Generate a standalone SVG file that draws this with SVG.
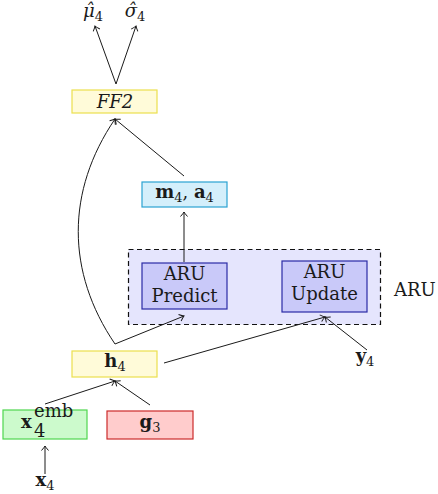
<svg xmlns="http://www.w3.org/2000/svg" width="438" height="494" viewBox="0 0 438 494">
<defs>
<style>
.t{font-family:"DejaVu Serif","Liberation Serif",serif;font-size:18px;fill:#1a1a1a}
.b{font-weight:bold}
.s{font-size:13px;font-weight:normal}
.e{stroke:#1a1a1a;stroke-width:1;fill:none}
.yel{fill:#fffbd9;stroke:#ece04e;stroke-width:1.2}
.blu{fill:#d4effb;stroke:#2aa2d2;stroke-width:1.2}
.pur{fill:#c9c9f9;stroke:#2b2ba6;stroke-width:1.2}
.grn{fill:#ccfacc;stroke:#4fd64f;stroke-width:1.2}
.red{fill:#ffcccc;stroke:#cc2a2a;stroke-width:1.2}
</style>
<marker id="ah" markerUnits="userSpaceOnUse" markerWidth="12" markerHeight="12" viewBox="-6 -6 12 12" refX="0" refY="0" orient="auto">
<path d="M-4.5,-3.5 Q-1.2,-0.6 0,0 Q-1.2,0.6 -4.5,3.5" fill="none" stroke="#1a1a1a" stroke-width="1"/>
</marker>
</defs>
<rect width="438" height="494" fill="#ffffff"/>

<g id="aru-group">
<rect x="128.5" y="249.5" width="252" height="75" fill="#e5e5fd" stroke="#111111" stroke-width="1.2" stroke-dasharray="5,3.5"/>
<text class="t" x="394" y="296">ARU</text>
</g>

<g id="connectors">
<path class="e" d="M116,84 L95,26" marker-end="url(#ah)"/>
<path class="e" d="M116,84 L136,26" marker-end="url(#ah)"/>
<path class="e" d="M184,176 L115,119" marker-end="url(#ah)"/>
<path class="e" d="M115,344 C66,272 66,191 115,119" marker-end="url(#ah)"/>
<path class="e" d="M115,344 L184,316" marker-end="url(#ah)"/>
<path class="e" d="M164,363 L325,317" marker-end="url(#ah)"/>
<path class="e" d="M367,350 L325,317" marker-end="url(#ah)"/>
<path class="e" d="M184,262 L184,212" marker-end="url(#ah)"/>
<path class="e" d="M45,404 L115,381" marker-end="url(#ah)"/>
<path class="e" d="M150,405 L115,381" marker-end="url(#ah)"/>
<path class="e" d="M45,474 L45,446" marker-end="url(#ah)"/>
</g>

<g id="mu">
<text class="t" x="93" y="17" text-anchor="middle"><tspan font-style="italic">μ̂</tspan><tspan class="s" dy="4">4</tspan></text>
</g>
<g id="sigma">
<text class="t" x="135" y="17" text-anchor="middle"><tspan font-style="italic">σ̂</tspan><tspan class="s" dy="4">4</tspan></text>
</g>

<g id="ff2">
<rect class="yel" x="72" y="90" width="85" height="23"/>
<text class="t" x="115" y="108" text-anchor="middle" font-style="italic" font-size="17">FF2</text>
</g>

<g id="ma">
<rect class="blu" x="142" y="182" width="85" height="25"/>
<text class="t b" x="184.5" y="198" text-anchor="middle" font-size="17">m<tspan class="s" dy="4">4</tspan><tspan dy="-4" font-weight="normal">, </tspan>a<tspan class="s" dy="4">4</tspan></text>
</g>

<g id="aru-predict">
<rect class="pur" x="142" y="263" width="85" height="46"/>
<text class="t" x="184.5" y="280" text-anchor="middle">ARU</text>
<text class="t" x="184.5" y="302" text-anchor="middle">Predict</text>
</g>

<g id="aru-update">
<rect class="pur" x="282" y="261" width="85" height="51"/>
<text class="t" x="324.5" y="278" text-anchor="middle">ARU</text>
<text class="t" x="324.5" y="300" text-anchor="middle">Update</text>
</g>

<g id="h4">
<rect class="yel" x="72" y="351" width="85" height="26"/>
<text class="t b" x="115" y="367" text-anchor="middle">h<tspan class="s" dy="4">4</tspan></text>
</g>

<g id="y4">
<text class="t b" x="365" y="362" text-anchor="middle">y<tspan class="s" dy="4">4</tspan></text>
</g>

<g id="xemb">
<rect class="grn" x="3" y="410" width="84" height="29"/>
<text class="t b" x="21" y="428">x</text>
<text class="t" x="34" y="417" font-size="13">emb</text>
<text class="t" x="34" y="437" font-size="13">4</text>
</g>

<g id="g3">
<rect class="red" x="107" y="411" width="86" height="28"/>
<text class="t b" x="150" y="428" text-anchor="middle">g<tspan class="s" dy="4">3</tspan></text>
</g>

<g id="x4">
<text class="t b" x="45" y="486" text-anchor="middle">x<tspan class="s" dy="4">4</tspan></text>
</g>
</svg>
